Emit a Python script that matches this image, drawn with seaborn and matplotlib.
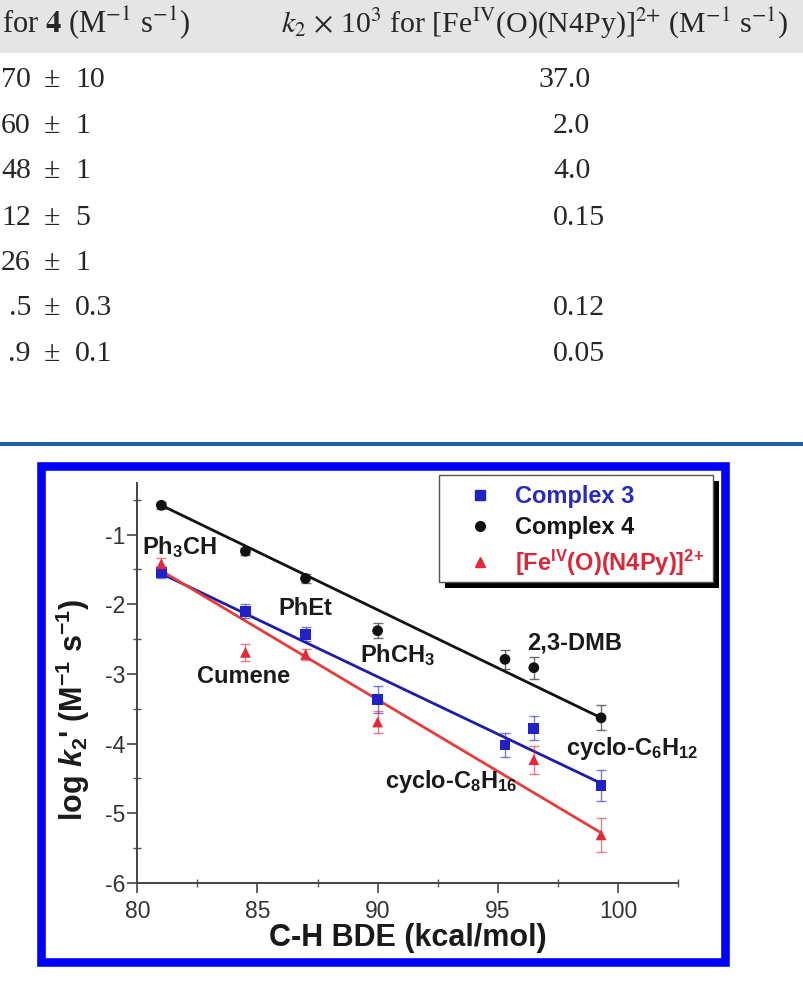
import numpy as np
import pandas as pd
import matplotlib
matplotlib.use("Agg")
import matplotlib.pyplot as plt
import seaborn as sns
from matplotlib.patches import Rectangle
from matplotlib.lines import Line2D
from matplotlib.ticker import MultipleLocator

# ---------------- data ----------------
# table (visible part of the cropped table)
k4_main = ["70", "60", "48", "12", "26", ".5", ".9"]
k4_err = ["10", "1", "1", "5", "1", "0.3", "0.1"]
fe_k2 = ["37.0", "2.0", "4.0", "0.15", "", "0.12", "0.05"]

# chart
bde = [81.0, 84.5, 87.0, 90.0, 95.3, 96.5, 99.3]
logk_c3 = [-1.54, -2.10, -2.43, -3.37, -4.02, -3.78, -4.60]
err_c3 = [0.08, 0.10, 0.10, 0.19, 0.17, 0.17, 0.22]
logk_c4 = [-0.58, -1.24, -1.63, -2.38, -2.79, -2.91, -3.63]
err_c4 = [0.05, 0.05, 0.06, 0.11, 0.14, 0.16, 0.18]
bde_fe = [81.0, 84.5, 87.0, 90.0, 96.5, 99.3]
logk_fe = [-1.42, -2.69, -2.72, -3.69, -4.23, -5.31]
err_fe = [0.08, 0.12, 0.08, 0.16, 0.20, 0.24]

fit_x = [81.0, 99.3]
fit_c3 = [-1.56, -4.57]
fit_c4 = [-0.58, -3.63]
fit_fe = [-1.52, -5.28]

series_names = ["Complex 3", "Complex 4", r"[Fe$^{\mathrm{IV}}$(O)(N4Py)]$^{\mathrm{2}{+}}$"]

substrates = ["Ph$_{\\mathrm{3}}$CH", "Cumene", "PhEt", "PhCH$_{\\mathrm{3}}$", "2,3-DMB",
              "cyclo-C$_{\\mathrm{8}}$H$_{\\mathrm{16}}$", "cyclo-C$_{\\mathrm{6}}$H$_{\\mathrm{12}}$"]
label_x = [80.2, 84.42, 87.0, 89.28, 98.2, 90.3, 97.82]
label_y = [-1.18, -3.04, -2.06, -2.73, -2.56, -4.55, -4.07]
label_ha = ["left", "center", "center", "left", "center", "left", "left"]

# ---------------- style ----------------
sns.set_style("ticks")
plt.rcParams["font.family"] = ["Liberation Sans", "DejaVu Sans"]
plt.rcParams["axes.unicode_minus"] = False
plt.rcParams["mathtext.fontset"] = "custom"
plt.rcParams["mathtext.rm"] = "Liberation Sans:bold"
plt.rcParams["mathtext.it"] = "Liberation Sans:italic:bold"
plt.rcParams["mathtext.bf"] = "Liberation Sans:bold"

W, H = 804, 984
def fx(x):
    return x / W
def fy(y):
    return 1 - y / H

fig = plt.figure(figsize=(W / 100, H / 100), dpi=100)
fig.patch.set_facecolor("white")

# ---------------- table part ----------------
fig.add_artist(Rectangle((0, fy(53)), 1, 53 / H, transform=fig.transFigure,
                         facecolor="#e5e5e5", edgecolor="none", zorder=1))
serif = ["Liberation Serif", "DejaVu Serif"]
fig.text(fx(2), fy(32), r"for $\mathbf{4}$ (M$^{-1}$ s$^{-1}$)", family=serif,
         fontsize=22, ha="left", va="baseline", math_fontfamily="stix", zorder=3)
fig.text(fx(281), fy(32),
         r"$k_2$ $\times$ 10$^{3}$ for [Fe$^{\mathrm{IV}}$(O)(N4Py)]$^{2{+}}$ (M$^{-1}$ s$^{-1}$)",
         family=serif, fontsize=21.5, ha="left", va="baseline", math_fontfamily="stix",
         zorder=3)
row_base = [87, 133, 178, 225, 270, 315, 361]
for yb, a, e, f in zip(row_base, k4_main, k4_err, fe_k2):
    fig.text(fx(31), fy(yb), a, family=serif, fontsize=21.5, ha="right", va="baseline")
    fig.text(fx(52), fy(yb), "\u00b1", family=serif, fontsize=21.5, ha="center", va="baseline")
    fig.text(fx(75), fy(yb), e, family=serif, fontsize=21.5, ha="left", va="baseline")
    if f:
        ip = f.split(".")[0]
        fig.text(fx(553 - 15 * (len(ip) - 1)), fy(yb), f, family=serif, fontsize=21.5,
                 ha="left", va="baseline")

# separator line
fig.add_artist(Line2D([0, 1], [fy(444), fy(444)], transform=fig.transFigure,
                      color="#23609a", lw=2.9, zorder=2))

# blue frame of figure
fig.add_artist(Rectangle((fx(41.5), fy(962)), (725 - 41.5) / W, (962 - 466) / H,
                         transform=fig.transFigure, facecolor="none",
                         edgecolor="#0000ff", lw=6.2, zorder=2))

# ---------------- chart ----------------
ax = fig.add_axes([fx(137.3), fy(883), (678 - 137.3) / W, (883 - 483) / H])
ax.set_facecolor("white")

col_c3, col_c4, col_fe = "#2222c4", "#111111", "#e2283a"
line_c3, line_c4, line_fe = "#1d1daa", "#111111", "#e63c3c"

df = pd.concat([
    pd.DataFrame({"bde": bde, "logk": logk_c3, "series": series_names[0]}),
    pd.DataFrame({"bde": bde, "logk": logk_c4, "series": series_names[1]}),
    pd.DataFrame({"bde": bde_fe, "logk": logk_fe, "series": series_names[2]}),
], ignore_index=True)

palette = {series_names[0]: col_c3, series_names[1]: col_c4, series_names[2]: col_fe}
markers = {series_names[0]: "s", series_names[1]: "o", series_names[2]: "^"}

# fit lines
sns.lineplot(x=fit_x, y=fit_c4, color=line_c4, lw=2.0, ax=ax, zorder=2)
sns.lineplot(x=fit_x, y=fit_c3, color=line_c3, lw=2.0, ax=ax, zorder=2)
sns.lineplot(x=fit_x, y=fit_fe, color=line_fe, lw=2.0, ax=ax, zorder=2)

# error bars
ax.errorbar(bde, logk_c4, yerr=err_c4, fmt="none", ecolor="#333333", elinewidth=1,
            capsize=3.5, capthick=1, alpha=0.7, zorder=2.5)
ax.errorbar(bde, logk_c3, yerr=err_c3, fmt="none", ecolor=col_c3, elinewidth=1,
            capsize=3.5, capthick=1, alpha=0.6, zorder=2.5)
ax.errorbar(bde_fe, logk_fe, yerr=err_fe, fmt="none", ecolor=col_fe, elinewidth=1,
            capsize=3.5, capthick=1, alpha=0.6, zorder=2.5)

sns.scatterplot(data=df, x="bde", y="logk", hue="series", style="series",
                palette=palette, markers=markers, s=60, linewidth=0,
                legend=False, ax=ax, zorder=3)

for t, x, y, ha in zip(substrates, label_x, label_y, label_ha):
    ax.text(x, y, t, fontsize=17, fontweight="bold", ha=ha, va="center",
            color="#1a1a1a", zorder=4, clip_on=False)

ax.set_xlim(80, 102.5)
ax.set_ylim(-6, -0.26)
ax.xaxis.set_major_locator(MultipleLocator(5))
ax.xaxis.set_minor_locator(MultipleLocator(2.5))
ax.yaxis.set_major_locator(MultipleLocator(1))
ax.yaxis.set_minor_locator(MultipleLocator(0.5))
ax.set_yticks([-6, -5, -4, -3, -2, -1])

for s in ["top", "right"]:
    ax.spines[s].set_visible(False)
for s in ["left", "bottom"]:
    ax.spines[s].set_color("#444444")
    ax.spines[s].set_linewidth(1.4)

ax.tick_params(axis="both", which="major", direction="out", length=7, width=1.2,
               color="#444444", labelsize=16.5, labelcolor="#333333")
ax.tick_params(axis="both", which="minor", direction="inout", length=6, width=1.0,
               color="#555555")
ax.tick_params(axis="x", which="major", pad=5)
ax.tick_params(axis="y", which="major", pad=1.5)

ax.set_xlabel("C-H BDE (kcal/mol)", fontsize=22, fontweight="bold", va="center",
              color="#1a1a1a")
ax.xaxis.set_label_coords(0.5, (883 - 938) / 400)
ax.set_ylabel(r"log $k_{\mathrm{2}}$' (M$^{\mathrm{-1}}$ s$^{\mathrm{-1}}$)", fontsize=22,
              fontweight="bold", va="center", color="#1a1a1a")
ax.yaxis.set_label_coords((73 - 137.3) / 540.7, (883 - 710) / 400)

# legend box with shadow
fig.add_artist(Rectangle((fx(444.5), fy(587.5)), (713 - 439) / W, (582 - 475) / H,
                         transform=fig.transFigure, facecolor="black",
                         edgecolor="none", zorder=3))
fig.add_artist(Rectangle((fx(439), fy(582)), (713 - 439) / W, (582 - 475) / H,
                         transform=fig.transFigure, facecolor="white",
                         edgecolor="#555555", lw=1.0, zorder=3.5))
handles = [
    Line2D([], [], ls="none", marker="s", color=col_c3, markersize=6.5),
    Line2D([], [], ls="none", marker="o", color=col_c4, markersize=7),
    Line2D([], [], ls="none", marker="^", color=col_fe, markersize=7.5),
]
leg = fig.legend(handles, series_names, loc="upper left",
                 bbox_to_anchor=(fx(468), fy(485)), frameon=False, borderpad=0,
                 borderaxespad=0, handlelength=1.0, handletextpad=0.99,
                 labelspacing=0.35,
                 prop={"family": "Liberation Sans", "weight": "bold", "size": 17})
leg.set_zorder(5)
for txt, c in zip(leg.get_texts(), ["#2a2ab8", "#151515", "#d8283a"]):
    txt.set_color(c)

fig.savefig("out.png", dpi=100, facecolor="white")
